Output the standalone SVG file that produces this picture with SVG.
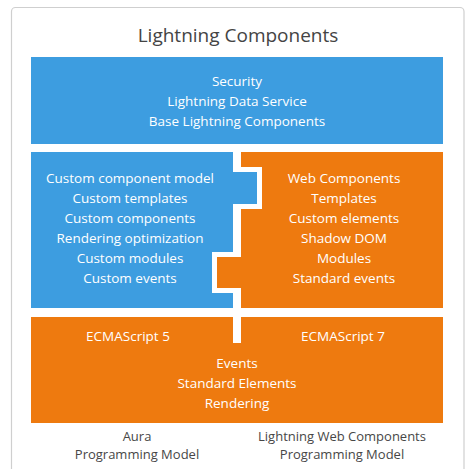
<svg xmlns="http://www.w3.org/2000/svg" width="474" height="469" viewBox="0 0 474 469">
<style>
text{font-family:"Open Sans","Noto Sans","Liberation Sans",sans-serif;text-anchor:middle}
.w{fill:#ffffff;font-size:13.5px}
.d{fill:#474747;font-size:13px}
.blue{fill:#3d9de0}
.orange{fill:#ee7a0f}
</style>
<rect width="474" height="469" fill="#ffffff"/>
<rect id="frame" x="11.5" y="7.5" width="452.5" height="480" rx="4" fill="#ffffff" stroke="#cfcfcf" stroke-width="1.2"/>
<text x="238" y="42" style="font-size:19px;fill:#444">Lightning Components</text>
<g id="shared-top">
<rect class="blue" x="31" y="57" width="412" height="87"/>
<text class="w" x="237" y="86">Security</text>
<text class="w" x="237" y="106">Lightning Data Service</text>
<text class="w" x="237" y="126">Base Lightning Components</text>
</g>
<g id="aura-middle">
<path class="blue" d="M31,152 H233 V172 H257 V204 H233 V252 H212 V293 H233 V308 H31 Z"/>
<text class="w" x="130" y="183">Custom component model</text>
<text class="w" x="130" y="203">Custom templates</text>
<text class="w" x="130" y="223">Custom components</text>
<text class="w" x="130" y="243">Rendering optimization</text>
<text class="w" x="130" y="263">Custom modules</text>
<text class="w" x="130" y="283">Custom events</text>
</g>
<g id="lwc-middle">
<path class="orange" d="M241,152 H443 V308 H241 V288 H217 V257 H241 V209 H262 V167 H241 Z"/>
<text class="w" x="344" y="183">Web Components</text>
<text class="w" x="344" y="203">Templates</text>
<text class="w" x="344" y="223">Custom elements</text>
<text class="w" x="344" y="243">Shadow DOM</text>
<text class="w" x="344" y="263">Modules</text>
<text class="w" x="344" y="283">Standard events</text>
</g>
<g id="shared-bottom">
<path class="orange" d="M31,317 H233 V343 H241 V317 H443 V423 H31 Z"/>
<text class="w" x="128" y="341">ECMAScript 5</text>
<text class="w" x="343" y="341">ECMAScript 7</text>
<text class="w" x="237" y="368">Events</text>
<text class="w" x="237" y="388">Standard Elements</text>
<text class="w" x="237" y="408">Rendering</text>
</g>
<g id="labels">
<text class="d" x="137" y="441">Aura</text>
<text class="d" x="137" y="459">Programming Model</text>
<text class="d" x="342" y="441">Lightning Web Components</text>
<text class="d" x="342" y="459">Programming Model</text>
</g>
<g id="connectors"></g>
</svg>
